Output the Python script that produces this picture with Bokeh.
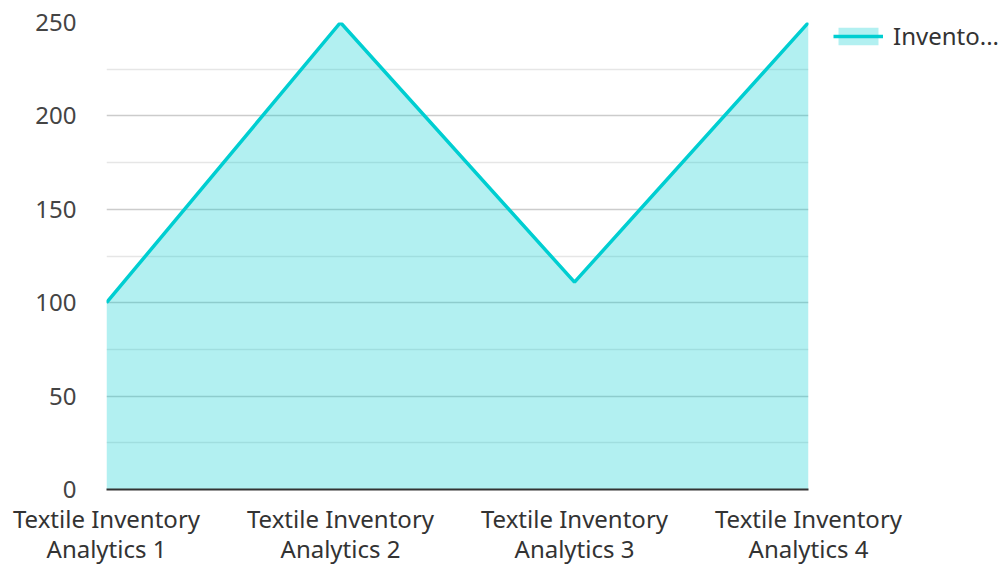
from bokeh.plotting import figure
from bokeh.models import FixedTicker, Legend, LegendItem, ColumnDataSource, LinearAxis
from bokeh.embed import file_html
from bokeh.resources import INLINE

categories = ["Textile Inventory Analytics 1", "Textile Inventory Analytics 2",
              "Textile Inventory Analytics 3", "Textile Inventory Analytics 4"]
values = [100, 250, 111, 250]
series_name = "Invento..."
y_ticks = [0, 50, 100, 150, 200, 250]

xs = list(range(len(categories)))
src = ColumnDataSource(dict(x=xs, y=values, y0=[0] * len(values)))

p = figure(frame_width=702, frame_height=467, output_backend="svg", toolbar_location=None,
           x_range=(0, len(categories) - 1), y_range=(0, 250),
           min_border_left=106, min_border_top=22, min_border_bottom=74, min_border_right=190)
p.outline_line_color = None
p.background_fill_color = "white"

COLOR = "#00CED1"
area = p.varea(x="x", y1="y0", y2="y", source=src, fill_color=COLOR, fill_alpha=0.3)
line = p.line(x="x", y="y", source=src, line_color=COLOR, line_width=3.5)

line1 = {}
line2 = {}
for i, c in enumerate(categories):
    words = c.split(" ")
    line1[i] = " ".join(words[:2])
    line2[i] = " ".join(words[2:])

FONT = "Noto Sans"
p.xaxis.ticker = FixedTicker(ticks=xs)
p.xaxis.major_label_overrides = line1
p.xaxis.major_tick_line_color = None
p.xaxis.minor_tick_line_color = None
p.xaxis.axis_line_color = "#333333"
p.xaxis.axis_line_width = 2
p.xaxis.major_label_text_font = FONT
p.xaxis.major_label_text_font_size = "24px"
p.xaxis.major_label_text_color = "#333333"
p.xaxis.major_label_standoff = 6

ax2 = LinearAxis(ticker=FixedTicker(ticks=xs), major_label_overrides=line2,
                 axis_line_color=None, major_tick_line_color=None, minor_tick_line_color=None,
                 major_label_text_font=FONT, major_label_text_font_size="24px",
                 major_label_text_color="#333333", major_label_standoff=-12)
p.add_layout(ax2, "below")

p.yaxis.ticker = FixedTicker(ticks=y_ticks, minor_ticks=[25, 75, 125, 175, 225])
p.yaxis.axis_line_color = None
p.yaxis.major_tick_line_color = None
p.yaxis.minor_tick_line_color = None
p.yaxis.major_label_text_font = FONT
p.yaxis.major_label_text_font_size = "24px"
p.yaxis.major_label_text_color = "#444444"
p.yaxis.major_label_standoff = 24

p.xgrid.grid_line_color = None
p.ygrid.grid_line_color = "#cccccc"
p.ygrid.grid_line_width = 1.5
p.ygrid.minor_grid_line_color = "#e6e6e6"
p.ygrid.minor_grid_line_width = 1.5

legend = Legend(items=[LegendItem(label=series_name, renderers=[area, line])],
                location=(25, 437), border_line_color=None, background_fill_alpha=0,
                label_text_font=FONT, label_text_font_size="24px",
                label_text_color="#333333", glyph_width=50, glyph_height=22,
                padding=0, margin=0, label_standoff=10)
p.add_layout(legend, "right")

open("out.html", "w").write(file_html(p, INLINE))
